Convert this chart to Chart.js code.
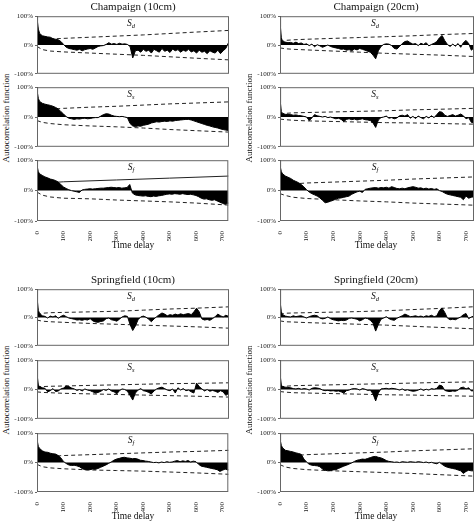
<!DOCTYPE html>
<html>
<head>
<meta charset="utf-8">
<script src="https://cdn.jsdelivr.net/npm/chart.js@4.4.1/dist/chart.umd.min.js"></script>
<style>
  body { margin: 0; width: 474px; height: 522px; overflow: hidden; background: #fff; position: relative;
         font-family: "Liberation Serif", "DejaVu Serif", serif; color: #111; }
  canvas { position: absolute; }
  .c { position: absolute; white-space: nowrap; transform: translate(-50%, -50%); line-height: 1; }
  .title { font-size: 11px; }
  .xlab { font-size: 9.5px; }
  .ylab { font-size: 9px; transform: translate(-50%, -50%) rotate(-90deg); }
  .s { font-size: 9.5px; font-style: italic; }
  .s sub { font-size: 6.5px; vertical-align: -2px; }
</style>
</head>
<body>
<script>
// lags (time delay) shared by every autocorrelation series
const lags = [0, 2, 5,
  10, 20, 30, 40, 50, 60, 70, 80, 90, 100,
  110, 120, 130, 140, 150, 160, 170, 180, 190, 200,
  210, 220, 230, 240, 250, 260, 270, 280, 290, 300,
  310, 320, 330, 340, 350, 360, 370, 380, 390, 400,
  410, 420, 430, 440, 450, 460, 470, 480, 490, 500,
  510, 520, 530, 540, 550, 560, 570, 580, 590, 600,
  610, 620, 630, 640, 650, 660, 670, 680, 690, 700,
  710, 720, 730];

// Champaign (10cm)
const champ10Sd = [100, 80, 55,
  40, 32, 30, 28, 27, 22, 20, 18, 12, 2,
  -8, -12, -14, -16, -18, -15, -20, -16, -14, -12,
  -15, -10, -5, -3, -2, 2, 8, 3, 5, 2,
  6, 3, 4, 2, -5, -45, -20, -18, -25, -15,
  -22, -18, -28, -15, -20, -25, -12, -22, -18, -26,
  -14, -20, -16, -25, -18, -22, -15, -24, -20, -28,
  -18, -25, -22, -30, -20, -25, -28, -18, -30, -20,
  -12, 8, 8];
const champ10Ss = [100, 80, 62,
  52, 46, 43, 41, 39, 36, 32, 27, 18, 10,
  1, -4, -6, -8, -6, -7, -5, -4, -6, -5,
  -3, -2, -2, 3, 8, 11, 10, 6, 3, 2,
  1, 2, 0, -2, -22, -30, -32, -30, -31, -28,
  -26, -24, -20, -18, -16, -17, -15, -14, -15, -13,
  -14, -12, -11, -10, -9, -8, -8, -10, -13, -16,
  -19, -22, -25, -28, -30, -33, -35, -37, -40, -42,
  -44, -45, -45];
const champ10Sf = [100, 75, 62,
  55, 50, 45, 42, 38, 36, 33, 28, 20, 12,
  7, 3, 0, -2, -4, -6, 2, 4, 5, 6,
  5, 6, 7, 8, 8, 9, 10, 11, 10, 9,
  10, 8, 9, 10, 20, -8, -14, -16, -17, -18,
  -17, -19, -20, -18, -19, -17, -16, -14, -12, -11,
  -12, -10, -11, -12, -10, -12, -13, -12, -14, -16,
  -20, -25, -28, -27, -30, -32, -30, -34, -38, -42,
  -45, -42, -40];

// Champaign (20cm)
const champ20Sd = [100, 60, 25,
  12, 10, 8, 9, 6, 10, 5, 7, 2, 4,
  -2, 3, -6, 1, -3, -8, -4, 0, -5, -8,
  -10, -12, -15, -14, -18, -16, -20, -14, -17, -12,
  -15, -18, -22, -25, -35, -48, -20, -5, 2, 4,
  3, -2, -12, -14, -5, 5, 12, 14, 8, 3,
  5, -2, 6, 2, 8, -3, 2, 6, 12, 25,
  33, 15, 2, -5, 3, -4, 5, -8, 8, 16,
  5, -18, -10];
const champ20Ss = [100, 45, 18,
  12, 9, 8, 8, 6, 7, 5, 4, 2, 0,
  -12, -3, 8, 4, 2, 0, 2, -2, 0, -3,
  -6, -4, -8, -15, -8, -6, -9, -7, -10, -8,
  -6, -9, -10, -12, -20, -35, -10, -2, 0, 3,
  -4, -2, -6, -3, 4, 6, 3, 8, -4, 2,
  -5, 3, -2, -6, 2, -3, 4, -2, 8, 18,
  16, 6, 2, 5, 8, 3, 6, 10, 4, -6,
  -2, -18, -20];
const champ20Sf = [100, 75, 62,
  55, 48, 44, 40, 34, 30, 26, 20, 12, 3,
  -5, -10, -14, -18, -24, -32, -40, -38, -35, -32,
  -28, -25, -24, -22, -20, -18, -12, -8, -4, -2,
  -6, 4, 6, 8, 9, 10, 8, 10, 9, 11,
  8, 13, 10, 7, 6, 8, 6, 9, 11, 13,
  11, 8, 9, 6, 8, 5, 7, 4, 6, 0,
  -3, -8, -12, -14, -16, -18, -20, -22, -30, -18,
  -25, -22, -20];

// Springfield (10cm)
const spring10Sd = [100, 55, 25,
  14, 6, 4, -2, 5, 2, 6, -3, 4, 8,
  3, -2, -4, -6, -9, -8, -10, -7, -9, -4,
  -12, -16, -17, -14, -12, -4, -2, -8, -10, -13,
  -6, 2, 6, 4, -25, -46, -30, -8, 2, 5,
  1, -6, -15, -5, 3, 10, 16, 12, 6, 10,
  8, 12, 9, 13, 10, 12, 14, 10, 20, 33,
  20, -5, -9, -7, -10, -4, 3, 12, 6, 2,
  8, 4, 4];
const spring10Ss = [100, 40, 15,
  10, 6, 4, -8, -4, 3, -7, -5, 2, 5,
  12, 10, 5, 2, -3, 0, -5, 2, -2, -4,
  -8, -12, -10, -6, 0, -3, 2, -5, -8, -15,
  -4, 2, 0, -6, -20, -36, -12, -2, 3, -4,
  -6, -10, -15, -5, 2, 6, 8, 3, -2, -4,
  2, -12, 6, -2, 3, -4, -2, -8, -12, 22,
  10, 2, -5, 0, -6, -3, -6, -10, -4, -8,
  -20, -14, -12];
const spring10Sf = [100, 70, 55,
  48, 40, 36, 35, 32, 30, 29, 24, 16, 4,
  -3, -8, -10, -9, -11, -14, -20, -24, -25, -24,
  -22, -23, -20, -16, -12, -8, -3, 2, 8, 12,
  14, 17, 18, 16, 15, 13, 14, 12, 8, 7,
  5, 4, 2, 0, 1, -1, 2, 0, 3, 1,
  2, 5, 7, 3, 6, 4, 7, 2, 5, 3,
  -6, -12, -14, -16, -18, -20, -22, -24, -30, -26,
  -22, -25, -25];

// Springfield (20cm)
const spring20Sd = [100, 45, 20,
  10, 5, 3, 2, 6, 3, 5, 6, 2, -2,
  3, 6, 8, 6, -2, -5, -3, 2, -4, -8,
  -10, -12, -10, -11, -9, -3, -2, -4, -6, -12,
  -8, -2, -4, -10, -20, -48, -25, -6, -2, 3,
  -4, -8, -10, -3, 2, 6, 12, 8, 3, 4,
  6, 3, 5, 2, 6, 4, 8, 3, 6, 25,
  33, 18, -2, -8, -6, -8, -3, 2, 10, 14,
  -4, 2, 5];
const spring20Ss = [100, 40, 15,
  10, 8, 7, 6, 3, 2, 4, 1, 3, 2,
  -2, 4, 6, 5, 3, -2, -4, -3, -5, -4,
  -6, -5, -8, -12, -4, -2, 2, 3, 2, -2,
  3, 1, -3, -2, -15, -39, -12, 2, 3, 4,
  2, 4, 3, 1, -2, 2, -3, -1, -4, -6,
  -5, -2, 2, -3, 1, -2, 3, 1, 4, 15,
  12, -3, -6, -7, -5, -6, -2, 6, 8, 2,
  6, -5, -4];
const spring20Sf = [100, 72, 58,
  50, 42, 40, 38, 36, 33, 31, 28, 12, 2,
  -6, -9, -10, -11, -14, -22, -26, -28, -27, -25,
  -24, -20, -16, -12, -9, -5, -1, 4, 8, 10,
  12, 11, 14, 17, 20, 21, 18, 16, 12, 7,
  4, 3, 1, 2, 0, 3, 2, 1, 3, 2,
  1, 3, 2, 0, 2, -1, 1, -2, -4, 1,
  -6, -12, -16, -18, -20, -22, -25, -28, -37, -30,
  -26, -28, -28];

// confidence bounds (dashed lines), read at these lags
const boundLags = [0, 20, 50, 100, 200, 300, 400, 500, 600, 730];
const champ10SdUp = [5, 18, 21, 23, 27, 31, 35, 40, 45, 51];
const champ10SdLo = [-5, -16, -21, -24, -28, -32, -36, -41, -46, -52];
const champ10SsUp = [5, 20, 26, 29, 33, 36, 40, 44, 47, 51];
const champ10SsLo = [-12, -18, -22, -26, -30, -33, -37, -42, -46, -51];
const champ10SfUp = [5, 22, 26, 29, 32, 35, 38, 41, 44, 48];
const champ10SfLo = [-5, -15, -21, -25, -27, -31, -34, -37, -41, -48];
const champ20SdUp = [10, 16, 18, 20, 23, 26, 29, 32, 36, 40];
const champ20SdLo = [-10, -13, -15, -17, -21, -25, -29, -32, -35, -40];
const champ20SsUp = [8, 12, 14, 15, 17, 19, 21, 24, 26, 29];
const champ20SsLo = [-7, -9, -11, -13, -15, -17, -19, -20, -22, -24];
const champ20SfUp = [8, 18, 22, 25, 28, 31, 34, 38, 41, 45];
const champ20SfLo = [-10, -16, -22, -26, -30, -34, -37, -41, -44, -48];
const spring10SdUp = [10, 15, 17, 18, 20, 22, 26, 30, 33, 38];
const spring10SdLo = [-9, -13, -15, -17, -21, -24, -27, -30, -33, -38];
const spring10SsUp = [8, 10, 11, 12, 14, 16, 18, 20, 21, 23];
const spring10SsLo = [-8, -10, -11, -13, -15, -17, -19, -21, -23, -26];
const spring10SfUp = [8, 18, 21, 24, 27, 30, 33, 36, 38, 42];
const spring10SfLo = [-6, -14, -18, -21, -25, -27, -29, -32, -35, -40];
const spring20SdUp = [10, 15, 16, 17, 19, 21, 24, 28, 32, 38];
const spring20SdLo = [-12, -15, -16, -18, -21, -24, -27, -31, -35, -40];
const spring20SsUp = [8, 11, 13, 14, 16, 18, 20, 22, 24, 26];
const spring20SsLo = [-7, -9, -11, -12, -14, -16, -18, -19, -21, -23];
const spring20SfUp = [8, 20, 24, 27, 30, 33, 36, 40, 43, 47];
const spring20SfLo = [-7, -15, -20, -24, -28, -31, -34, -37, -41, -46];

const yTicks = [-100, 0, 100];
const xTickStep = 100;

const groups = [
  { title: 'Champaign (10cm)', left: 37, width: 192, max: 722, top: [15, 86, 159], h: [60, 62, 62],
    series: [[champ10Sd, champ10SdUp, champ10SdLo], [champ10Ss, champ10SsUp, champ10SsLo], [champ10Sf, champ10SfUp, champ10SfLo]],
    solidUpper: [false, false, true] },
  { title: 'Champaign (20cm)', left: 280, width: 194, max: 730, top: [15, 86, 159], h: [60, 62, 62],
    series: [[champ20Sd, champ20SdUp, champ20SdLo], [champ20Ss, champ20SsUp, champ20SsLo], [champ20Sf, champ20SfUp, champ20SfLo]],
    solidUpper: [false, false, false] },
  { title: 'Springfield (10cm)', left: 37, width: 192, max: 722, top: [288, 359, 432], h: [59, 61, 60],
    series: [[spring10Sd, spring10SdUp, spring10SdLo], [spring10Ss, spring10SsUp, spring10SsLo], [spring10Sf, spring10SfUp, spring10SfLo]],
    solidUpper: [false, false, false] },
  { title: 'Springfield (20cm)', left: 280, width: 194, max: 730, top: [288, 359, 432], h: [59, 61, 60],
    series: [[spring20Sd, spring20SdUp, spring20SdLo], [spring20Ss, spring20SsUp, spring20SsLo], [spring20Sf, spring20SfUp, spring20SfLo]],
    solidUpper: [false, false, false] }
];
const subs = ['d', 's', 'f'];

// box round each plot area
const frame = {
  id: 'frame',
  afterDatasetsDraw(chart) {
    const { ctx, chartArea: a } = chart;
    ctx.save();
    ctx.strokeStyle = '#666';
    ctx.lineWidth = 1;
    ctx.strokeRect(a.left + 0.5, a.top + 0.5, a.right - a.left - 1, a.bottom - a.top - 1);
    ctx.restore();
  }
};

const tickFont = { family: 'Liberation Serif', size: 7 };

function addText(cls, html, x, y) {
  const d = document.createElement('div');
  d.className = 'c ' + cls;
  d.innerHTML = html;
  d.style.left = x + 'px';
  d.style.top = y + 'px';
  document.body.appendChild(d);
}

function makePanel(g, k) {
  const axis = k === 2;
  const padL = 26, padT = 5, padR = 4, padB = axis ? 20 : 5;
  const [acf, up, lo] = g.series[k];
  const c = document.createElement('canvas');
  c.width = g.width + padL + padR;
  c.height = g.h[k] + padT + padB;
  c.style.left = (g.left - padL) + 'px';
  c.style.top = (g.top[k] - padT) + 'px';
  document.body.appendChild(c);

  new Chart(c, {
    type: 'line',
    data: {
      datasets: [
        { data: lags.map((x, i) => ({ x, y: acf[i] })), fill: 'origin',
          backgroundColor: '#000', borderColor: '#000', borderWidth: 1, pointRadius: 0 },
        { data: boundLags.map((x, i) => ({ x, y: up[i] })), fill: false,
          borderColor: '#222', borderWidth: 1, borderDash: g.solidUpper[k] ? [] : [4, 3], pointRadius: 0 },
        { data: boundLags.map((x, i) => ({ x, y: lo[i] })), fill: false,
          borderColor: '#222', borderWidth: 1, borderDash: [4, 3], pointRadius: 0 }
      ]
    },
    options: {
      responsive: false,
      animation: false,
      events: [],
      layout: { padding: { top: padT, right: padR, bottom: axis ? 0 : padB, left: 0 } },
      plugins: { legend: { display: false }, tooltip: { enabled: false } },
      scales: {
        x: {
          type: 'linear', min: 0, max: g.max,
          afterFit: s => { s.height = axis ? padB : 0; },
          grid: { display: false }, border: { display: false },
          ticks: { display: axis, stepSize: xTickStep, includeBounds: false, autoSkip: false,
                   minRotation: 90, maxRotation: 90, padding: 2, font: tickFont, color: '#222' }
        },
        y: {
          min: yTicks[0], max: yTicks[2],
          afterFit: s => { s.width = padL; },
          afterBuildTicks: s => { s.ticks = yTicks.map(v => ({ value: v })); },
          grid: { drawOnChartArea: false, tickLength: 2, color: '#666' }, border: { display: false },
          ticks: { padding: 2, font: tickFont, color: '#222', callback: v => v + '%' }
        }
      }
    },
    plugins: [frame]
  });

  const cx = g.left + g.width / 2 - 2;
  addText('s', '<i>S</i><sub>' + subs[k] + '</sub>', cx, g.top[k] + 9);
}

groups.forEach(g => {
  for (let k = 0; k < 3; k++) makePanel(g, k);
  const cx = g.left + 96;
  addText('title', g.title, cx, g.top[0] - 9);
  addText('xlab', 'Time delay', cx, g.top[2] + g.h[2] + 25);
  addText('ylab', 'Autocorrelation function', g.left - 31, (g.top[0] + g.top[2] + g.h[2]) / 2);
});
</script>
</body>
</html>
